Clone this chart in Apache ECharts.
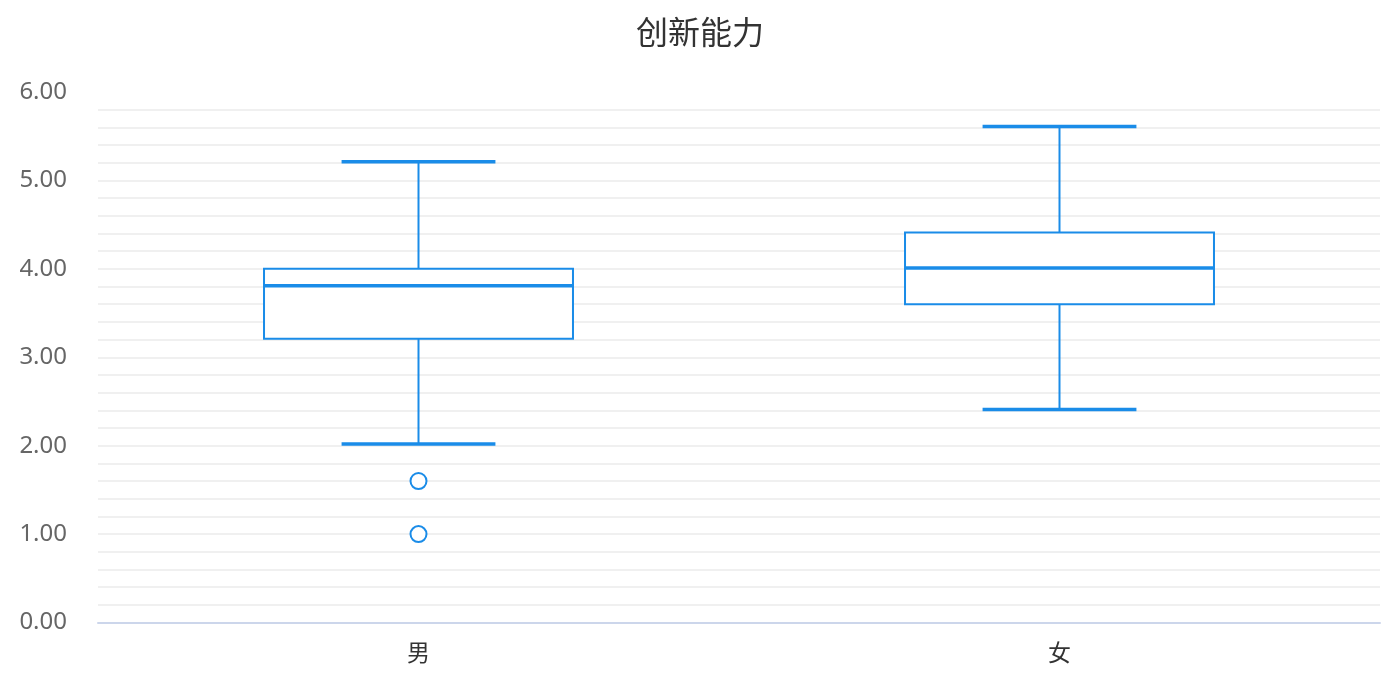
<!DOCTYPE html>
<html>
<head>
<meta charset="utf-8">
<script src="https://cdn.jsdelivr.net/npm/echarts@6/dist/echarts.min.js"></script>
<style>html,body{margin:0;padding:0;background:#fff}#c{width:1400px;height:700px}</style>
</head>
<body>
<div id="c"></div>
<script>
var categories = ['男', '女'];
var mins = [2.02, 2.41];
var q1s = [3.21, 3.6];
var medians = [3.81, 4.01];
var q3s = [4.0, 4.41];
var maxs = [5.21, 5.61];
var outlierCats = ['男', '男'];
var outlierVals = [1.6, 1.0];
var yTicks = { min: 0, max: 6, interval: 1 };

var COLOR = '#1a8ce8';
var boxData = categories.map(function (c, i) {
  return [i, mins[i], q1s[i], medians[i], q3s[i], maxs[i]];
});
var outlierData = outlierCats.map(function (c, i) { return [c, outlierVals[i]]; });

var chart = echarts.init(document.getElementById('c'));
chart.setOption({
  animation: false,
  backgroundColor: '#fff',
  title: {
    text: '创新能力', left: 'center', top: 11,
    textStyle: { fontFamily: 'Noto Sans CJK SC', fontSize: 32, fontWeight: 'normal', color: '#333' }
  },
  grid: { left: 98, right: 20, top: 92, bottom: 77.5 },
  xAxis: {
    type: 'category', data: categories,
    axisLine: { lineStyle: { color: '#ccd6eb', width: 2 } },
    axisTick: { show: false },
    axisLabel: { fontFamily: 'Noto Sans CJK SC', fontSize: 23, color: '#333', margin: 18 },
    splitLine: { show: false }
  },
  yAxis: {
    type: 'value', min: yTicks.min, max: yTicks.max, interval: yTicks.interval,
    axisLine: { show: false }, axisTick: { show: false },
    axisLabel: {
      fontFamily: 'Noto Sans', fontSize: 24, color: '#666', margin: 31,
      formatter: function (v) { return v.toFixed(2); }
    },
    splitLine: { show: true, showMaxLine: false, lineStyle: { color: '#f0f0f0', width: 2 } },
    minorTick: { show: false, splitNumber: 5 },
    minorSplitLine: { show: true, lineStyle: { color: '#f0f0f0', width: 2 } }
  },
  series: [{
    type: 'custom',
    data: boxData,
    encode: { x: 0, y: [1, 2, 3, 4, 5] },
    renderItem: function (params, api) {
      var idx = api.value(0);
      var band = api.size([1, 0])[0];
      var bw = band * 0.482;
      var cw = band * 0.24;
      var pMin = api.coord([idx, api.value(1)]);
      var pQ1 = api.coord([idx, api.value(2)]);
      var pMed = api.coord([idx, api.value(3)]);
      var pQ3 = api.coord([idx, api.value(4)]);
      var pMax = api.coord([idx, api.value(5)]);
      var cx = pMed[0];
      var thin = { stroke: COLOR, lineWidth: 2, fill: null };
      var thick = { stroke: COLOR, lineWidth: 3.5, fill: null };
      return {
        type: 'group',
        children: [
          { type: 'line', shape: { x1: cx, y1: pMax[1], x2: cx, y2: pQ3[1] }, style: thin },
          { type: 'line', shape: { x1: cx, y1: pQ1[1], x2: cx, y2: pMin[1] }, style: thin },
          { type: 'line', shape: { x1: cx - cw / 2, y1: pMax[1], x2: cx + cw / 2, y2: pMax[1] }, style: thick },
          { type: 'line', shape: { x1: cx - cw / 2, y1: pMin[1], x2: cx + cw / 2, y2: pMin[1] }, style: thick },
          { type: 'rect', shape: { x: cx - bw / 2, y: pQ3[1], width: bw, height: pQ1[1] - pQ3[1] }, style: { stroke: COLOR, lineWidth: 2, fill: '#fff' } },
          { type: 'line', shape: { x1: cx - bw / 2, y1: pMed[1], x2: cx + bw / 2, y2: pMed[1] }, style: thick }
        ]
      };
    }
  }, {
    type: 'scatter',
    data: outlierData,
    symbol: 'emptyCircle',
    symbolSize: 16,
    itemStyle: { color: COLOR, borderColor: COLOR, borderWidth: 2, opacity: 1 }
  }]
});
</script>
</body>
</html>
